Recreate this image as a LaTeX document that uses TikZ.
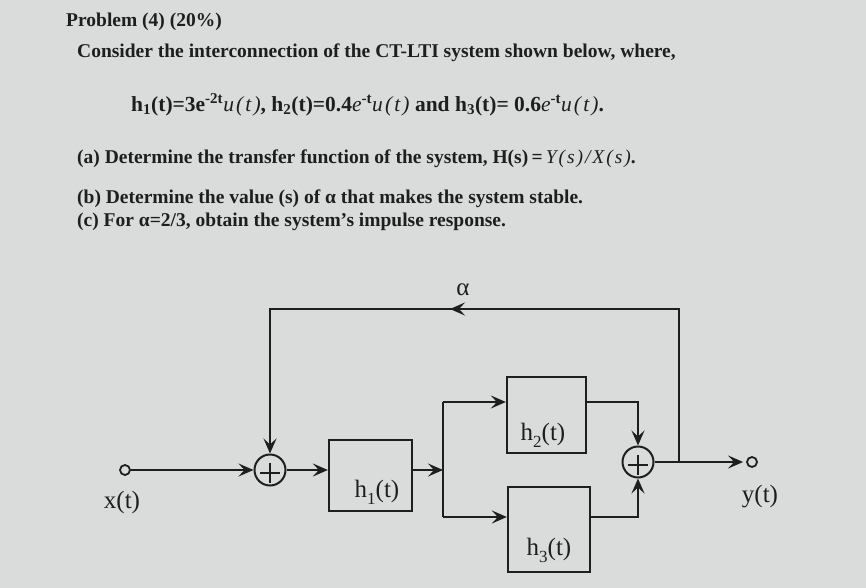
\documentclass[tikz,border=0pt]{standalone}
\usepackage{fontspec}
\setmainfont{Liberation Serif}
\usetikzlibrary{arrows.meta,calc}
\definecolor{paper}{RGB}{218,220,219}
\definecolor{ink}{RGB}{30,30,30}
\newcommand{\lsub}[1]{\raisebox{-0.28em}{\fontsize{17}{17}\selectfont #1}}
\newcommand{\wideit}[1]{{\mdseries\itshape\addfontfeatures{LetterSpace=10}#1}}
\begin{document}
\begin{tikzpicture}[x=1pt,y=-1pt,
  wire/.style={draw=ink,line width=2.3pt},
  arr/.style={wire,-{Stealth[length=15pt,width=13pt,inset=6pt]}},
  blk/.style={draw=ink,line width=2.3pt,inner sep=0},
  sumc/.style={circle,draw=ink,line width=2pt,minimum size=31pt,inner sep=0},
  term/.style={circle,draw=ink,line width=1.8pt,minimum size=10pt,inner sep=0},
  txt/.style={anchor=west,inner sep=0,text=ink,font=\fontsize{19.5}{22}\selectfont\bfseries},
  lab/.style={inner sep=0,text=ink,font=\fontsize{25}{28}\selectfont}]
\fill[paper] (0,0) rectangle (866,588);
\useasboundingbox (0,0) rectangle (866,588);
% text
\node[txt] (t0) at (66,22) {Problem (4) (20\%)};
\node[txt] (t1) at (77,53) {Consider the interconnection of the CT-LTI system shown below, where,};
\node[txt,font=\fontsize{21.5}{24}\selectfont\bfseries] (t2) at (131,105) {h\textsubscript{1}(t)=3e\textsuperscript{-2t}\wideit{u(t)}, h\textsubscript{2}(t)=0.4\wideit{e}\textsuperscript{-t}\wideit{u(t)} and h\textsubscript{3}(t)= 0.6\wideit{e}\textsuperscript{-t}\wideit{u(t)}.};
\node[txt] (t3) at (77,159) {(a) Determine the transfer function of the system, H(s)\,=\,\wideit{Y(s)/X(s)}.};
\node[txt] (t4) at (77,199) {(b) Determine the value (s) of α that makes the system stable.};
\node[txt] (t5) at (77,222) {(c) For α=2/3, obtain the system’s impulse response.};
% diagram
\node[term] (xin) at (125,470) {};
\node[lab] (xl) at (122,502) {x(t)};
\node[sumc] (s1) at (270,470) {};
\draw[ink,line width=1.4pt] ($(s1.center)+(-10,3)$) -- ($(s1.center)+(10,3)$)
  ($(s1.center)+(0,-7)$) -- ($(s1.center)+(0,13)$);
\node[blk,minimum width=83pt,minimum height=71pt] (h1) at (370.5,475.5) {};
\node[lab] (h1l) at (377,492) {h\lsub{1}(t)};
\coordinate (sp) at (443,470);
\coordinate (a2) at (443,402);
\coordinate (a3) at (443,517);
\node[blk,minimum width=79pt,minimum height=76pt] (h2) at (546.5,415) {};
\node[lab] (h2l) at (543,435) {h\lsub{2}(t)};
\node[blk,minimum width=82pt,minimum height=85pt] (h3) at (549,529.5) {};
\node[lab] (h3l) at (549,550) {h\lsub{3}(t)};
\node[sumc] (s2) at (638,462) {};
\draw[ink,line width=1.4pt] ($(s2.center)+(-10,3)$) -- ($(s2.center)+(10,3)$)
  ($(s2.center)+(0,-7)$) -- ($(s2.center)+(0,13)$);
\node[term] (yout) at (752,462) {};
\node[lab] (yl) at (760,497) {y(t)};
\coordinate (fb) at (679,462);
\coordinate (fbr) at (679,309);
\coordinate (fbl) at (270,309);
\coordinate (fbm) at (450,309);
\node[lab] (al) at (463,290) {α};
% connectors
\draw[arr] (xin) -- (s1);
\draw[arr] (s1) -- (s1 -| h1.west);
\draw[arr] (h1.east |- sp) -- (sp);
\draw[wire] (a2) -- (a3);
\draw[arr] (a2) -- (a2 -| h2.west);
\draw[arr] (a3) -- (a3 -| h3.west);
\draw[arr] (h2.east |- a2) -| (s2.north);
\draw[arr] (h3.east |- a3) -| (s2.south);
\draw[arr,shorten >=3pt] (s2) -- (yout);
\draw[arr] (fb) -- (fbr) -- (fbl) -- (s1);
\draw[arr] (fbr) -- (fbm);
\end{tikzpicture}
\end{document}
